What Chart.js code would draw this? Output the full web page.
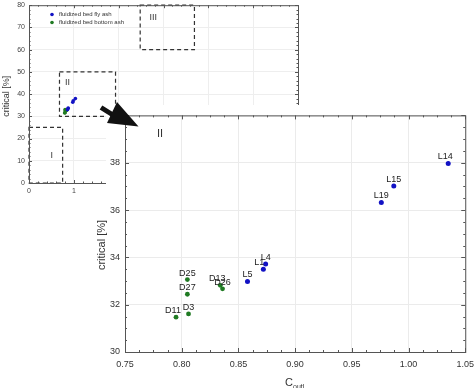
<!DOCTYPE html>
<html>
<head>
<meta charset="utf-8">
<script src="https://cdn.jsdelivr.net/npm/chart.js@4.4.0/dist/chart.umd.min.js"></script>
<style>
  html, body { margin: 0; padding: 0; background: #fff; }
  #wrap { position: relative; width: 474px; height: 388px; overflow: hidden; }
  #inset { position: absolute; left: 0; top: -3px; }
  #main { position: absolute; left: 90px; top: 105px; }
  #arrow { position: absolute; left: 95px; top: 98px; }
</style>
</head>
<body>
<div id="wrap">
  <canvas id="inset" width="310" height="203"></canvas>
  <canvas id="main" width="391" height="283"></canvas>
  <canvas id="arrow" width="50" height="35"></canvas>
</div>
<script>
// data
const seriesNames = ["fluidized bed fly ash", "fluidized bed bottom ash"];

const flyLabels = ["L14", "L15", "L19", "L4", "L1", "L5"];
const flyX = [1.035, 0.987, 0.976, 0.874, 0.872, 0.858];
const flyY = [37.97, 37.02, 36.32, 33.72, 33.5, 32.98];

const bottomLabels = ["D25", "D27", "D13", "D26", "D3", "D11"];
const bottomX = [0.805, 0.805, 0.834, 0.836, 0.806, 0.795];
const bottomY = [33.06, 32.44, 32.82, 32.67, 31.61, 31.47];

const mainXTicks = [0.75, 0.8, 0.85, 0.9, 0.95, 1.0, 1.05];
const mainYTicks = [30, 32, 34, 36, 38, 40];
const insetXTicks = [0, 1, 2, 3, 4, 5, 6];
const insetYTicks = [0, 10, 20, 30, 40, 50, 60, 70, 80];

// zoom regions marked on the overview plot
const regionNames = ["I", "II", "III"];
const regionX0 = [0, 0.68, 2.48];
const regionX1 = [0.75, 1.93, 3.69];
const regionY0 = [0, 30, 60];
const regionY1 = [25, 50, 80];

const FONT = "'Liberation Sans', Arial, sans-serif";
const BLUE = "#1212c4";
const GREEN = "#1f7a22";

const toPoints = (xs, ys) => xs.map((x, i) => ({ x: x, y: ys[i] }));

// frame with small inward ticks on all four sides
function framePlugin(minorDiv, majorLen) {
  return {
    id: "frame",
    afterDraw(chart) {
      const { ctx, chartArea: a, scales } = chart;
      ctx.save();
      ctx.strokeStyle = "#555";
      ctx.lineWidth = 1;
      ctx.strokeRect(a.left + 0.5, a.top + 0.5, a.right - a.left, a.bottom - a.top);
      ctx.beginPath();
      const xt = scales.x.ticks.map((t) => t.value);
      const yt = scales.y.ticks.map((t) => t.value);
      xt.forEach((v, i) => {
        const px = Math.round(scales.x.getPixelForValue(v)) + 0.5;
        ctx.moveTo(px, a.bottom); ctx.lineTo(px, a.bottom - majorLen);
        ctx.moveTo(px, a.top); ctx.lineTo(px, a.top + majorLen);
        if (i < xt.length - 1) {
          for (let k = 1; k < minorDiv; k++) {
            const m = Math.round(scales.x.getPixelForValue(v + (xt[i + 1] - v) * k / minorDiv)) + 0.5;
            ctx.moveTo(m, a.bottom); ctx.lineTo(m, a.bottom - majorLen / 2);
            ctx.moveTo(m, a.top); ctx.lineTo(m, a.top + majorLen / 2);
          }
        }
      });
      yt.forEach((v, i) => {
        const py = Math.round(scales.y.getPixelForValue(v)) + 0.5;
        ctx.moveTo(a.left, py); ctx.lineTo(a.left + majorLen, py);
        ctx.moveTo(a.right, py); ctx.lineTo(a.right - majorLen, py);
        if (i < yt.length - 1) {
          for (let k = 1; k < minorDiv; k++) {
            const m = Math.round(scales.y.getPixelForValue(v + (yt[i + 1] - v) * k / minorDiv)) + 0.5;
            ctx.moveTo(a.left, m); ctx.lineTo(a.left + majorLen / 2, m);
            ctx.moveTo(a.right, m); ctx.lineTo(a.right - majorLen / 2, m);
          }
        }
      });
      ctx.stroke();
      ctx.restore();
    },
  };
}

// ---------- overview (inset) chart ----------
const insetExtras = {
  id: "insetExtras",
  afterDatasetsDraw(chart) {
    const { ctx, scales, chartArea } = chart;
    const x = scales.x, y = scales.y;
    ctx.save();
    ctx.strokeStyle = "#333";
    ctx.lineWidth = 1.2;
    ctx.setLineDash([4, 3]);
    regionNames.forEach((name, i) => {
      const l = x.getPixelForValue(regionX0[i]);
      const r = x.getPixelForValue(regionX1[i]);
      const t = y.getPixelForValue(regionY1[i]);
      const b = y.getPixelForValue(regionY0[i]);
      ctx.strokeRect(l, t, r - l, b - t);
    });
    ctx.setLineDash([]);
    ctx.fillStyle = "#333";
    ctx.font = "9px " + FONT;
    ctx.textAlign = "center";
    ctx.textBaseline = "middle";
    const lbl = [
      [(x.getPixelForValue(regionX0[0]) + x.getPixelForValue(regionX1[0])) / 2 + 6,
       (y.getPixelForValue(regionY0[0]) + y.getPixelForValue(regionY1[0])) / 2],
      [x.getPixelForValue(regionX0[1]) + 8, y.getPixelForValue(regionY1[1]) + 11],
      [x.getPixelForValue(regionX0[2]) + 13, y.getPixelForValue(regionY1[2]) + 12],
    ];
    regionNames.forEach((name, i) => ctx.fillText(name, lbl[i][0], lbl[i][1]));

    // legend, placed from the top of the plot area
    ctx.font = "6px " + FONT;
    ctx.textAlign = "left";
    [BLUE, GREEN].forEach((c, i) => {
      const ly = chartArea.top + 9.3 + i * 8;
      ctx.fillStyle = c;
      ctx.beginPath();
      ctx.arc(52, ly, 1.8, 0, Math.PI * 2);
      ctx.fill();
      ctx.fillStyle = "#333";
      ctx.fillText(seriesNames[i], 59, ly);
    });

    // y title
    ctx.translate(7, chartArea.top + 91);
    ctx.rotate(-Math.PI / 2);
    ctx.textAlign = "center";
    ctx.font = "9px " + FONT;
    ctx.fillStyle = "#333";
    ctx.fillText("critical [%]", 0, 0);
    ctx.restore();
  },
};

new Chart(document.getElementById("inset"), {
  type: "scatter",
  data: {
    datasets: [
      { label: seriesNames[0], data: toPoints(flyX, flyY), backgroundColor: BLUE, borderColor: BLUE, pointRadius: 1.8, borderWidth: 0 },
      { label: seriesNames[1], data: toPoints(bottomX, bottomY), backgroundColor: GREEN, borderColor: GREEN, pointRadius: 1.8, borderWidth: 0 },
    ],
  },
  options: {
    responsive: false,
    animation: false,
    layout: { padding: { top: 2, right: 12, left: 0, bottom: 0 } },
    plugins: { legend: { display: false }, tooltip: { enabled: false } },
    scales: {
      x: {
        type: "linear", min: 0, max: 6,
        afterBuildTicks: (s) => { s.ticks = insetXTicks.map((v) => ({ value: v })); },
        afterFit: (s) => { s.height = 17; },
        ticks: { font: { size: 7, family: FONT }, color: "#444", padding: 4 },
        grid: { color: "#eeeeee", drawTicks: false },
        border: { color: "#555" },
      },
      y: {
        type: "linear", min: 0, max: 80,
        afterBuildTicks: (s) => { s.ticks = insetYTicks.map((v) => ({ value: v })); },
        afterFit: (s) => { s.width = 29; },
        ticks: { font: { size: 7, family: FONT }, color: "#444", padding: 4 },
        grid: { color: "#eeeeee", drawTicks: false },
        border: { color: "#555" },
      },
    },
  },
  plugins: [framePlugin(5, 3), insetExtras],
});

// ---------- zoomed chart (region II) ----------
const labelShift = { L14: -3, L1: -4, D11: -3, D13: -3 };

const mainExtras = {
  id: "mainExtras",
  beforeDraw(chart) {
    const { ctx } = chart;
    ctx.save();
    ctx.fillStyle = "#fff";
    ctx.fillRect(16, 0, chart.width - 16, chart.height);
    ctx.restore();
  },
  afterDatasetsDraw(chart) {
    const { ctx } = chart;
    const names = [flyLabels, bottomLabels];
    ctx.save();
    ctx.font = "9px " + FONT;
    ctx.fillStyle = "#222";
    ctx.textAlign = "center";
    ctx.textBaseline = "bottom";
    chart.data.datasets.forEach((ds, di) => {
      chart.getDatasetMeta(di).data.forEach((pt, i) => {
        const n = names[di][i];
        ctx.fillText(n, pt.x + (labelShift[n] || 0), pt.y - 2);
      });
    });

    // region name
    ctx.font = "11px " + FONT;
    ctx.fillStyle = "#333";
    ctx.textBaseline = "middle";
    ctx.fillText("II", 70, 29);

    // axis titles
    ctx.font = "11px " + FONT;
    ctx.textAlign = "left";
    ctx.textBaseline = "alphabetic";
    ctx.fillText("C", 195, 281);
    ctx.font = "7px " + FONT;
    ctx.fillText("outl", 203, 284);

    ctx.translate(12, 140);
    ctx.rotate(-Math.PI / 2);
    ctx.font = "11px " + FONT;
    ctx.textAlign = "center";
    ctx.textBaseline = "middle";
    ctx.fillText("critical [%]", 0, 0);
    ctx.restore();
  },
};

new Chart(document.getElementById("main"), {
  type: "scatter",
  data: {
    datasets: [
      { label: seriesNames[0], data: toPoints(flyX, flyY), backgroundColor: BLUE, borderColor: BLUE, pointRadius: 2.5, borderWidth: 0 },
      { label: seriesNames[1], data: toPoints(bottomX, bottomY), backgroundColor: GREEN, borderColor: GREEN, pointRadius: 2.4, borderWidth: 0 },
    ],
  },
  options: {
    responsive: false,
    animation: false,
    layout: { padding: { top: 9, right: 9, left: 0, bottom: 0 } },
    plugins: { legend: { display: false }, tooltip: { enabled: false } },
    scales: {
      x: {
        type: "linear", min: 0.75, max: 1.05,
        afterBuildTicks: (s) => { s.ticks = mainXTicks.map((v) => ({ value: v })); },
        afterFit: (s) => { s.height = 36; },
        ticks: { font: { size: 9, family: FONT }, color: "#333", padding: 7, callback: (v) => Number(v).toFixed(2) },
        grid: { color: "#ebebeb", drawTicks: false },
        border: { color: "#555" },
      },
      y: {
        type: "linear", min: 30, max: 40,
        afterBuildTicks: (s) => { s.ticks = mainYTicks.map((v) => ({ value: v })); },
        afterFit: (s) => { s.width = 35; },
        ticks: { font: { size: 9, family: FONT }, color: "#333", padding: 5 },
        grid: { color: "#ebebeb", drawTicks: false },
        border: { color: "#555" },
      },
    },
  },
  plugins: [framePlugin(4, 4), mainExtras],
});

// pointer arrow from region II to the zoomed chart
const actx = document.getElementById("arrow").getContext("2d");
actx.translate(-95, -98);
actx.fillStyle = "#111";
actx.strokeStyle = "#111";
actx.lineWidth = 5;
actx.beginPath();
actx.moveTo(101, 107.5);
actx.lineTo(113, 115);
actx.stroke();
actx.beginPath();
actx.moveTo(117, 102);
actx.lineTo(138.5, 126.5);
actx.lineTo(107, 123);
actx.closePath();
actx.fill();
</script>
</body>
</html>
